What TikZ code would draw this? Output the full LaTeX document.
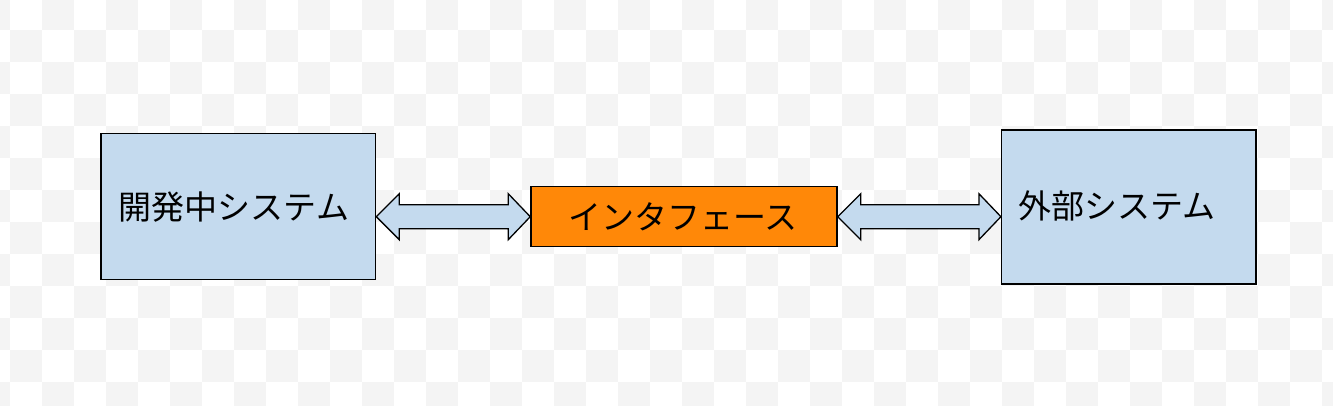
\documentclass[tikz,border=0pt]{standalone}
\usepackage{fontspec}
\newfontfamily\cjk{Noto Sans CJK JP}
\usetikzlibrary{calc}
\definecolor{checkgray}{RGB}{244,244,244}
\definecolor{boxblue}{RGB}{196,218,238}
\definecolor{ifaceorange}{RGB}{255,136,8}
\tikzset{
  sysbox/.style={draw=black, line width=1.5pt, fill=boxblue, inner sep=0pt},
  ifacebox/.style={draw=black, line width=1.5pt, fill=ifaceorange, inner sep=0pt},
  label text/.style={inner sep=0pt, font=\cjk\fontsize{33}{39}\selectfont, text=black},
  darrow/.style={draw=black, line width=1.3pt, fill=boxblue, line join=miter}
}
\begin{document}
\begin{tikzpicture}[x=1pt,y=-1pt]
\useasboundingbox (0,0) rectangle (1333,406);
\fill[white] (0,0) rectangle (1333,406);
\begin{scope}
\clip (0,0) rectangle (1333,406);
\foreach \c in {0,...,42}{
  \foreach \r in {0,...,12}{
    \ifodd\numexpr\c+\r\relax\else
      \fill[checkgray] (-22+32*\c,-2+32*\r) rectangle ++(32,32);
    \fi
  }
}
\end{scope}
% boxes
\node[sysbox, minimum width=274.5pt, minimum height=146pt] (dev) at (238.3,206.3) {};
\node[ifacebox, minimum width=306pt, minimum height=60pt] (iface) at (684,216.7) {};
\node[sysbox, minimum width=254.3pt, minimum height=154pt] (ext) at (1128.8,207) {};
% texts
\node[label text] (devtxt) at (234,207) {開発中システム};
\node[label text] (ifacetxt) at (683,216.7) {インタフェース};
\node[label text] (exttxt) at (1117,206) {外部システム};
% double arrows
\coordinate (p1) at (dev.east |- iface.west);
\coordinate (q1) at (iface.west);
\draw[darrow] (p1) -- ++(23,-23) -- ++(0,11) -- ($(q1)+(-22,-12)$) -- ++(0,-11) -- (q1)
  -- ++(-22,23) -- ++(0,-11) -- ($(p1)+(23,12)$) -- ++(0,11) -- cycle;
\coordinate (p2) at (iface.east);
\coordinate (q2) at (ext.west |- iface.east);
\draw[darrow] (p2) -- ++(23,-23) -- ++(0,11) -- ($(q2)+(-22,-12)$) -- ++(0,-11) -- (q2)
  -- ++(-22,23) -- ++(0,-11) -- ($(p2)+(23,12)$) -- ++(0,11) -- cycle;
\end{tikzpicture}
\end{document}
